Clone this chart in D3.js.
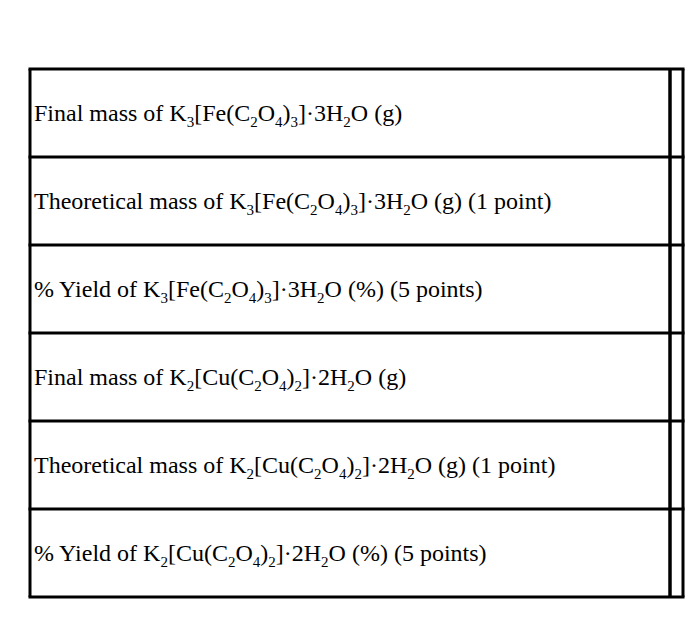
<!DOCTYPE html>
<html><head><meta charset="utf-8">
<script src="https://cdn.jsdelivr.net/npm/d3@7"></script>
<style>body{margin:0;background:#fff}</style></head>
<body><div class="main"></div>
<script>
// Row labels, "_n" marks a subscript digit
const rowLabels = [
  "Final mass of K_3[Fe(C_2O_4)_3]·3H_2O (g)",
  "Theoretical mass of K_3[Fe(C_2O_4)_3]·3H_2O (g) (1 point)",
  "% Yield of K_3[Fe(C_2O_4)_3]·3H_2O (%) (5 points)",
  "Final mass of K_2[Cu(C_2O_4)_2]·2H_2O (g)",
  "Theoretical mass of K_2[Cu(C_2O_4)_2]·2H_2O (g) (1 point)",
  "% Yield of K_2[Cu(C_2O_4)_2]·2H_2O (%) (5 points)"
];

const W = 700, H = 629;
const tLeft = 30, tRight = 683, tTop = 69, tBottom = 597, tSplit = 670;

const svg = d3.select('.main').append('svg')
  .attr('width', W).attr('height', H)
  .style('font-family', '"Liberation Serif", "Times New Roman", serif');

const y = d3.scaleBand().domain(d3.range(rowLabels.length)).range([tTop, tBottom]);

// grid lines
svg.selectAll('line.h').data(d3.range(rowLabels.length + 1)).join('line')
  .attr('x1', tLeft - 1.5).attr('x2', tRight + 1.5)
  .attr('y1', i => tTop + i * y.bandwidth()).attr('y2', i => tTop + i * y.bandwidth())
  .attr('stroke', '#000').attr('stroke-width', 3);
[tLeft, tSplit, tRight].forEach(x => svg.append('line')
  .attr('x1', x).attr('x2', x).attr('y1', tTop).attr('y2', tBottom)
  .attr('stroke', '#000').attr('stroke-width', x === tSplit ? 3.5 : 3));

// labels with subscripts
rowLabels.forEach((lab, i) => {
  const t = svg.append('text')
    .attr('x', 34).attr('y', y(i) + y.bandwidth() / 2 + 8)
    .attr('font-size', 24).attr('fill', '#000');
  lab.split(/(_\d)/).filter(s => s.length).forEach(s => {
    if (s[0] === '_') {
      t.append('tspan').attr('font-size', 15).attr('dy', 6).text(s.slice(1));
      t.append('tspan').attr('dy', -6).text('\u200B');
    } else {
      t.append('tspan').text(s);
    }
  });
});
</script></body></html>
